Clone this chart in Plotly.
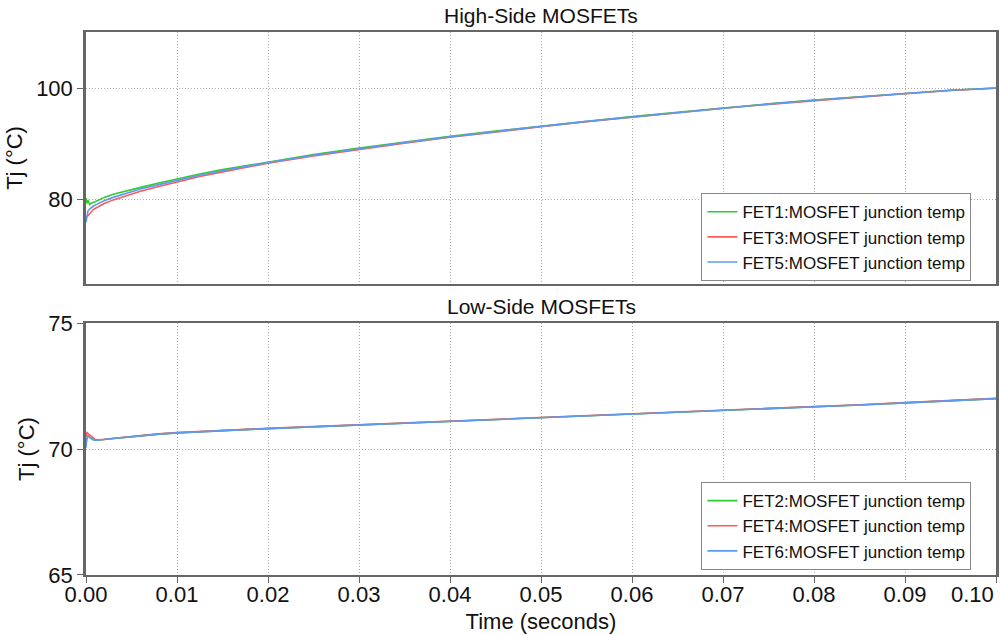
import plotly.graph_objects as go
from plotly.subplots import make_subplots

# time axis (seconds)
t = [0.0, 0.0001, 0.0002, 0.0004, 0.0006, 0.0008, 0.001, 0.0015, 0.002, 0.003,
     0.004, 0.005, 0.006, 0.008, 0.01, 0.0125, 0.015, 0.0175, 0.02, 0.025,
     0.03, 0.035, 0.04, 0.045, 0.05, 0.055, 0.06, 0.065, 0.07, 0.075,
     0.08, 0.085, 0.09, 0.095, 0.1]

# high-side junction temperatures (°C)
fet1 = [80.2, 79.2, 79.8, 79.0, 79.3, 79.4, 79.5, 79.9, 80.3, 80.85,
        81.3, 81.7, 82.1, 82.9, 83.65, 84.5, 85.3, 86.0, 86.7, 88.0,
        89.2, 90.3, 91.3, 92.25, 93.15, 94.05, 94.85, 95.65, 96.45, 97.15,
        97.85, 98.45, 99.05, 99.6, 100.02]
fet3 = [76.6, 76.8, 77.0, 77.5, 77.8, 78.1, 78.3, 78.8, 79.2, 79.85,
        80.4, 80.9, 81.4, 82.25, 83.1, 84.05, 84.9, 85.7, 86.45, 87.75,
        88.98, 90.08, 91.12, 92.12, 93.03, 93.92, 94.75, 95.56, 96.36, 97.06,
        97.76, 98.37, 98.97, 99.56, 99.97]
fet5 = [75.8, 77.2, 77.8, 78.2, 78.5, 78.7, 78.9, 79.3, 79.7, 80.3,
        80.8, 81.3, 81.8, 82.6, 83.4, 84.3, 85.1, 85.9, 86.6, 87.9,
        89.1, 90.2, 91.2, 92.2, 93.1, 94.0, 94.8, 95.6, 96.4, 97.1,
        97.8, 98.4, 99.0, 99.6, 100.0]

# low-side junction temperatures (°C)
fet2 = [70.25, 70.5, 70.55, 70.46, 70.4, 70.37, 70.35, 70.36, 70.38, 70.42,
        70.46, 70.5, 70.53, 70.59, 70.64, 70.69, 70.73, 70.77, 70.81, 70.88,
        70.95, 71.02, 71.09, 71.16, 71.23, 71.3, 71.37, 71.45, 71.52, 71.6,
        71.67, 71.75, 71.83, 71.91, 72.0]
fet4 = [70.5, 70.65, 70.62, 70.55, 70.48, 70.42, 70.38, 70.37, 70.39, 70.43,
        70.47, 70.51, 70.54, 70.6, 70.65, 70.7, 70.74, 70.78, 70.82, 70.89,
        70.96, 71.03, 71.1, 71.17, 71.24, 71.31, 71.38, 71.46, 71.53, 71.61,
        71.68, 71.76, 71.84, 71.92, 72.01]
fet6 = [70.05, 70.45, 70.5, 70.45, 70.4, 70.37, 70.35, 70.36, 70.38, 70.42,
        70.46, 70.5, 70.53, 70.59, 70.64, 70.69, 70.73, 70.77, 70.81, 70.88,
        70.95, 71.02, 71.09, 71.16, 71.23, 71.3, 71.37, 71.45, 71.52, 71.6,
        71.67, 71.75, 71.83, 71.91, 72.0]

x_ticks = [0.0, 0.01, 0.02, 0.03, 0.04, 0.05, 0.06, 0.07, 0.08, 0.09, 0.1]
x_tick_text = ["0.00", "0.01", "0.02", "0.03", "0.04", "0.05", "0.06", "0.07",
               "0.08", "0.09", ""]

GREEN = "#2ecc2e"
RED = "#ff5a5a"
BLUE = "#5a9bf0"
FONT = "Liberation Sans, Arial, sans-serif"

fig = make_subplots(rows=2, cols=1, shared_xaxes=True, vertical_spacing=0.072)

for name, y, color in [("FET1:MOSFET junction temp", fet1, GREEN),
                       ("FET3:MOSFET junction temp", fet3, RED),
                       ("FET5:MOSFET junction temp", fet5, BLUE)]:
    fig.add_trace(go.Scatter(x=t, y=y, name=name, mode="lines",
                             line=dict(color=color, width=1.6), legend="legend"),
                  row=1, col=1)

for name, y, color in [("FET2:MOSFET junction temp", fet2, GREEN),
                       ("FET4:MOSFET junction temp", fet4, RED),
                       ("FET6:MOSFET junction temp", fet6, BLUE)]:
    fig.add_trace(go.Scatter(x=t, y=y, name=name, mode="lines",
                             line=dict(color=color, width=1.6), legend="legend2"),
                  row=2, col=1)

axis_common = dict(showline=True, mirror=True, linecolor="#666666",
                   showgrid=True, gridcolor="#aaaaaa", griddash="1px,2px", gridwidth=1,
                   zeroline=False, tickfont=dict(size=22, color="#111111"),
                   tickcolor="#666666", ticklen=6)

fig.update_xaxes(**axis_common, linewidth=1.5, range=[0, 0.1],
                 tickvals=x_ticks, ticktext=x_tick_text)
fig.update_xaxes(showticklabels=False, ticks="", row=1, col=1)
fig.update_xaxes(ticks="outside", ticklabelstandoff=-7,
                 title=dict(text="Time (seconds)", font=dict(size=22), standoff=7),
                 row=2, col=1)

fig.update_yaxes(**axis_common, linewidth=2.5, ticks="outside",
                 title=dict(text="Tj (°C)", font=dict(size=22), standoff=8))
fig.update_yaxes(range=[64.7, 110.1], tickvals=[80, 100], row=1, col=1)
fig.update_yaxes(range=[65, 75], tickvals=[65, 70, 75], row=2, col=1)

legend_common = dict(bgcolor="white", bordercolor="#888888", borderwidth=1,
                     font=dict(size=17, color="#111111", family=FONT),
                     xanchor="right", yanchor="bottom", tracegroupgap=0,
                     itemwidth=30)

fig.update_layout(
    width=1000, height=635,
    margin=dict(l=86, r=1, t=32, b=60),
    plot_bgcolor="white", paper_bgcolor="white",
    font=dict(family=FONT, color="#111111"),
    legend=dict(**legend_common, x=0.973, y=0.541),
    legend2=dict(**legend_common, x=0.973, y=0.009),
    annotations=[
        dict(text="High-Side MOSFETs", x=0.5, y=1.031, xref="paper", yref="paper",
             showarrow=False, font=dict(size=21), yanchor="middle"),
        dict(text="Low-Side MOSFETs", x=0.5, y=0.4936, xref="paper", yref="paper",
             showarrow=False, font=dict(size=21), yanchor="middle"),
        # last x tick label, kept inside the figure like the reference
        dict(text="0.10", x=1.0, y=0, xref="paper", yref="paper", yshift=-5,
             showarrow=False, font=dict(size=22), xanchor="right", yanchor="top"),
    ],
)

fig.write_html("out.html", config={"displayModeBar": False},
               post_script="document.body.style.margin='0';")
